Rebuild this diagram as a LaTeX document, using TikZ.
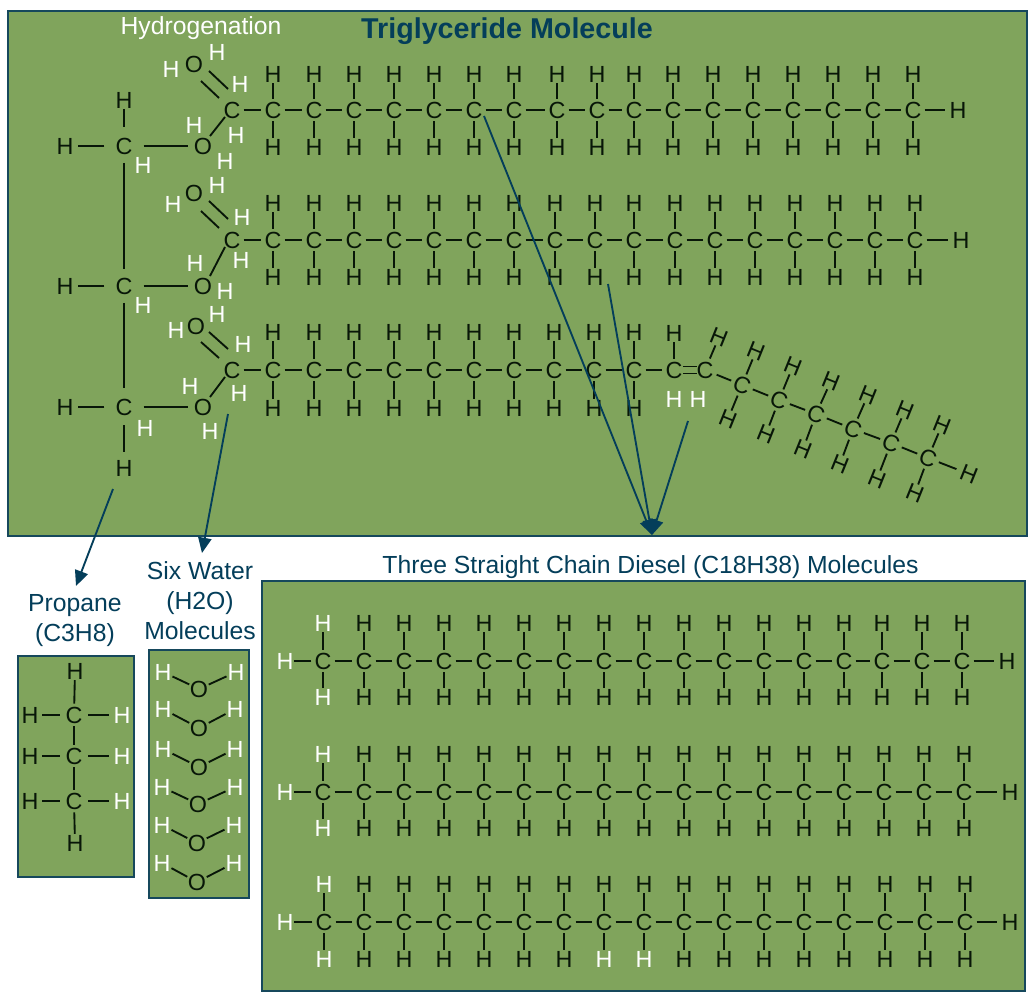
\documentclass[tikz,border=0pt]{standalone}
\usepackage{fontspec}
\setmainfont{Liberation Sans}
\usetikzlibrary{arrows.meta}
\definecolor{leaf}{RGB}{128,164,92}
\definecolor{edgeblue}{RGB}{22,72,92}
\definecolor{inkblue}{RGB}{4,62,90}
\definecolor{bondink}{RGB}{8,22,8}
\tikzset{
  atomtext/.style={font=\fontsize{17.5pt}{19pt}\selectfont,text=bondink},
  catom/.style={atomtext,inner sep=2.4pt,outer sep=0pt},
  hatom/.style={atomtext,inner sep=0.8pt,outer sep=0pt},
  oatom/.style={atomtext,inner sep=1.2pt,outer sep=0pt},
  hwhite/.style={hatom,text=white},
  bond/.style={draw=bondink,line width=1.4pt},
  panel/.style={draw=edgeblue,fill=leaf,line width=1.5pt},
  label/.style={font=\fontsize{18.55pt}{22pt}\selectfont,text=inkblue,inner sep=0pt,anchor=base},
  flow/.style={draw=inkblue,line width=1.4pt,-{Triangle[length=11.5pt,width=10pt]}},
  tilt/.style={rotate=-22}
}
% name, y of carbons, y of upper H, y of lower H, x list
\newcommand{\chainrow}[5]{%
  \foreach \x [count=\i, remember=\i as \j (initially 0)] in {#5} {
    \edef\tcol{\ifcsname wh#1t\i\endcsname white\else bondink\fi}
    \edef\bcol{\ifcsname wh#1b\i\endcsname white\else bondink\fi}
    \node[catom] (#1c\i) at (\x,#2) {C};
    \node[hatom,text=\tcol] (#1t\i) at (\x,#3) {H};
    \node[hatom,text=\bcol] (#1b\i) at (\x,#4) {H};
    \draw[bond] (#1c\i) -- (#1t\i);
    \draw[bond] (#1c\i) -- (#1b\i);
    \ifnum\i>1 \draw[bond] (#1c\j) -- (#1c\i);\fi
  }%
}
\expandafter\def\csname whdat1\endcsname{}
\expandafter\def\csname whdab1\endcsname{}
\expandafter\def\csname whdbt1\endcsname{}
\expandafter\def\csname whdbb1\endcsname{}
\expandafter\def\csname whdct1\endcsname{}
\expandafter\def\csname whdcb1\endcsname{}
\expandafter\def\csname whdcb8\endcsname{}
\expandafter\def\csname whdcb9\endcsname{}
\begin{document}
\begin{tikzpicture}[x=0.75pt,y=-0.75pt]
\useasboundingbox (0,0) rectangle (1034,1000);
\fill[white] (0,0) rectangle (1034,1000);
% panels
\path[panel] (8,11) rectangle (1027,536);
\path[panel] (262,581) rectangle (1025,991);
\path[panel] (18,656) rectangle (134,877);
\path[panel] (149,650) rectangle (249,898);
% titles
\node[font=\fontsize{18.55pt}{22pt}\selectfont,text=white,inner sep=0pt,anchor=base] (hyd) at (201,34.5) {Hydrogenation};
\node[font=\fontsize{21.5pt}{24pt}\bfseries\selectfont,text=inkblue,inner sep=0pt,anchor=base] (tri) at (507,38.5) {Triglyceride Molecule};
\node[label] (diesel) at (650.5,573) {Three Straight Chain Diesel (C18H38) Molecules};
\node[label] (prop1) at (75,611.5) {Propane};
\node[label] (prop2) at (75,641.5) {(C3H8)};
\node[label] (six1) at (200,579.5) {Six Water};
\node[label] (six2) at (200,609.5) {(H2O)};
\node[label] (six3) at (200,639.5) {Molecules};
% fatty chains
\chainrow{a}{110}{74}{147}{273,314,354,394,434,474,514,557,597,634,673,713,753,793,833,873,913}
\chainrow{b}{240}{203}{277}{273,314,354,394,434,474,514,555,595,634,675,715,755,795,835,875,915}
\chainrow{c}{370}{332}{408}{273,314,354,394,434,474,514,554,594,634}
\node[hatom] (aend) at (958,110) {H};
\draw[bond,shorten >=3pt] (ac17) -- (aend);
\node[hatom] (bend) at (961,240) {H};
\draw[bond,shorten >=3pt] (bc17) -- (bend);
% carboxyl heads
\foreach \n/\cy/\oy/\gy/\ox/\oa/\ob/\oc/\od in {a/110/64/146/194/7/17/15/7, b/240/193/286/194/7/18/15/8, c/370/326/407/196/5/16/13/6}{
  \node[catom] (\n h) at (232,\cy) {C};
  \node[oatom] (\n dbl) at (\ox,\oy) {O};
  \node[oatom] (\n est) at (203,\gy) {O};
  \draw[bond] (\n h) -- (\n c1);
  \draw[bond] ([shift={(\oa,\ob)}]\n dbl.center) -- ([shift={(-13,-12)}]\n h.center);
  \draw[bond] ([shift={(\oc,\od)}]\n dbl.center) -- ([shift={(-4,-21)}]\n h.center);
  \draw[bond] ([shift={(7,-10)}]\n est.center) -- ([shift={(-7,7)}]\n h.center);
}
% unsaturated tail
\node[catom] (dc1) at (674,370) {C};
\node[hatom] (dt1) at (674,333) {H};
\draw[bond] (dc1) -- (dt1);
\draw[bond] (cc10) -- (dc1);
\node[catom] (dc2) at (705,370) {C};
\draw[bond] ([shift={(9,-3.5)}]dc1.center) -- ([shift={(-8,-3.5)}]dc2.center);
\draw[bond] ([shift={(9,3.5)}]dc1.center) -- ([shift={(-8,3.5)}]dc2.center);
\node[hatom,tilt] (dt2) at (719,337) {H};
\draw[bond] (dc2) -- (dt2);
\foreach \cx/\cy/\tx/\ty/\bx/\by [count=\i from 3, remember=\i as \j (initially 2)] in {
  742/385/756/351/728/419, 779/400/793/366/766/434, 816/414/831/381/803/449,
  853/429/868/395/840/464, 891/443/905/410/877/479, 928/458/942/425/915/493}{
  \node[catom,tilt] (dc\i) at (\cx,\cy) {C};
  \node[hatom,tilt] (dt\i) at (\tx,\ty) {H};
  \node[hatom,tilt] (db\i) at (\bx,\by) {H};
  \draw[bond] (dc\j) -- (dc\i);
  \draw[bond] (dc\i) -- (dt\i);
  \draw[bond] (dc\i) -- (db\i);
}
\node[hatom,tilt] (dend) at (969,474) {H};
\draw[bond,shorten >=3pt] (dc8) -- (dend);
% glycerol backbone
\foreach \n/\y/\g in {1/146/a,2/286/b,3/407/c}{
  \node[catom] (g\n) at (124,\y) {C};
  \node[hatom] (gh\n) at (65,\y) {H};
  \draw[bond,shorten <=6pt,shorten >=3pt] (g\n) -- (gh\n);
  \draw[bond,shorten <=6pt,shorten >=3pt] (g\n) -- (\g est);
}
\node[hatom] (gtop) at (124,100) {H};
\node[hatom] (gbot) at (124,468) {H};
\draw[bond,shorten <=6pt] (g1) -- (gtop);
\draw[bond,shorten <=4pt,shorten >=4pt] (g1) -- (g2);
\draw[bond,shorten <=4pt,shorten >=6pt] (g2) -- (g3);
\draw[bond,shorten <=5pt,shorten >=5pt] (g3) -- (gbot);
% hydrogens added (white)
\foreach \hx/\hy [count=\i] in {
  171/69,217/52,240/84,194/125,236/135,225/161,143/165,
  173/204,217/185,242/217,195/263,241/260,225/291,143/305,
  176/330,217/314,243/344,190/386,239/393,210/431,145/428,
  674/399,698/399}{
  \node[hwhite] (wh\i) at (\hx,\hy) {H};
}
% propane
\node[hatom] (pt) at (75,671) {H};
\node[hatom] (pb) at (75,843) {H};
\foreach \n/\y in {1/715,2/756,3/801}{
  \node[catom] (p\n) at (74,\y) {C};
  \node[hatom] (pl\n) at (30,\y) {H};
  \node[hwhite] (pr\n) at (122,\y) {H};
  \draw[bond,shorten <=2pt,shorten >=2pt] (p\n) -- (pl\n);
  \draw[bond,shorten <=2pt,shorten >=3pt] (p\n) -- (pr\n);
}
\draw[bond] (p1) -- (pt);
\draw[bond] (p1) -- (p2);
\draw[bond] (p2) -- (p3);
\draw[bond] (p3) -- (pb);
% water
\foreach \ox/\oy/\lx/\rx/\hy [count=\i] in {
  199/689/163/236/672, 199/728/163/235/709, 199/767/163/235/749,
  198/804/162/235/787, 197/843/162/234/825, 197/882/162/234/863}{
  \node[oatom,inner sep=0.5pt] (wo\i) at (\ox,\oy) {O};
  \node[hwhite] (wl\i) at (\lx,\hy) {H};
  \node[hwhite] (wr\i) at (\rx,\hy) {H};
  \draw[bond] (wo\i) -- (wl\i);
  \draw[bond] (wo\i) -- (wr\i);
}
% diesel
\chainrow{da}{661}{623}{697}{323,364,404,444,484,524,564,604,644,684,724,764,804,844,882,922,962}
\chainrow{db}{792}{754}{828}{323,364,404,444,484,524,564,604,644,684,724,764,804,844,884,924,964}
\chainrow{dc}{922}{884}{959}{324,364,404,444,484,524,564,604,644,684,724,764,804,844,885,925,965}
\foreach \n/\ly/\rx in {da/661/1007, db/792/1010, dc/922/1010}{
  \node[hwhite] (\n l) at (285,\ly) {H};
  \node[hatom] (\n r) at (\rx,\ly) {H};
  \draw[bond] (\n c1) -- (\n l);
  \draw[bond,shorten >=3pt] (\n c17) -- (\n r);
}
% reaction arrows
\coordinate (s1) at (484,116);
\coordinate (s2) at (608,284);
\coordinate (s3) at (688,421);
\coordinate (s4) at (113,489);
\coordinate (s5) at (228,414);
\coordinate (e1) at (652,535);
\coordinate (e2) at (76,586);
\coordinate (e3) at (202,553);
\draw[flow] (s1) -- (e1);
\draw[flow] (s2) -- (e1);
\draw[flow] (s3) -- (e1);
\draw[flow] (s4) -- (e2);
\draw[flow] (s5) -- (e3);
\end{tikzpicture}
\end{document}
